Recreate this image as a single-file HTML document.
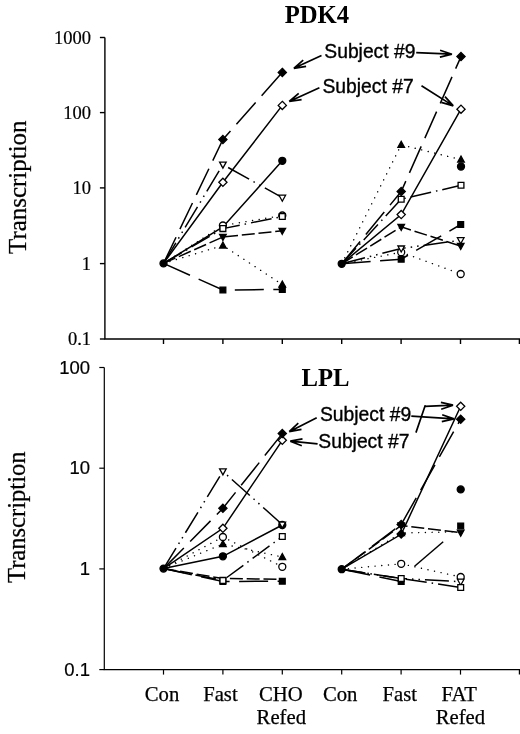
<!DOCTYPE html>
<html><head><meta charset="utf-8"><title>PDK4 / LPL transcription</title>
<style>html,body{margin:0;padding:0;background:#fff}svg{display:block}text{fill:#000}.se{font-family:"Liberation Serif",serif}.sa{font-family:"Liberation Sans",sans-serif}</style></head>
<body>
<svg width="520" height="734" viewBox="0 0 520 734">
<rect width="520" height="734" fill="#fff"/>
<path d="M104.9,37.5 V339.0 H520" fill="none" stroke="#000" stroke-width="1.4"/>
<path d="M99.9,37.5 H104.9" stroke="#000" stroke-width="1.4"/>
<text x="91" y="43.5" text-anchor="end" class="se" font-size="18.5" stroke="#000" stroke-width="0.2">1000</text>
<path d="M99.9,112.6 H104.9" stroke="#000" stroke-width="1.4"/>
<text x="91" y="118.6" text-anchor="end" class="se" font-size="18.5" stroke="#000" stroke-width="0.2">100</text>
<path d="M99.9,187.9 H104.9" stroke="#000" stroke-width="1.4"/>
<text x="91" y="193.9" text-anchor="end" class="se" font-size="18.5" stroke="#000" stroke-width="0.2">10</text>
<path d="M99.9,263.6 H104.9" stroke="#000" stroke-width="1.4"/>
<text x="91" y="269.6" text-anchor="end" class="se" font-size="18.5" stroke="#000" stroke-width="0.2">1</text>
<path d="M99.9,339.0 H104.9" stroke="#000" stroke-width="1.4"/>
<text x="91" y="345.0" text-anchor="end" class="se" font-size="18.5" stroke="#000" stroke-width="0.2">0.1</text>
<path d="M163.5,339.0 v5" stroke="#000" stroke-width="1.4"/>
<path d="M222.9,339.0 v5" stroke="#000" stroke-width="1.4"/>
<path d="M282.3,339.0 v5" stroke="#000" stroke-width="1.4"/>
<path d="M341.7,339.0 v5" stroke="#000" stroke-width="1.4"/>
<path d="M401.1,339.0 v5" stroke="#000" stroke-width="1.4"/>
<path d="M460.5,339.0 v5" stroke="#000" stroke-width="1.4"/>
<path d="M519.4,339.0 v5" stroke="#000" stroke-width="1.4"/>
<path d="M104.3,367.5 V669.6 H520" fill="none" stroke="#000" stroke-width="1.2"/>
<path d="M99.3,367.5 H104.3" stroke="#000" stroke-width="1.2"/>
<text x="90" y="373.7" text-anchor="end" class="sa" font-size="18.5" stroke="#000" stroke-width="0.2">100</text>
<path d="M99.3,468.2 H104.3" stroke="#000" stroke-width="1.2"/>
<text x="90" y="474.4" text-anchor="end" class="sa" font-size="18.5" stroke="#000" stroke-width="0.2">10</text>
<path d="M99.3,568.9 H104.3" stroke="#000" stroke-width="1.2"/>
<text x="90" y="575.1" text-anchor="end" class="sa" font-size="18.5" stroke="#000" stroke-width="0.2">1</text>
<path d="M99.3,669.6 H104.3" stroke="#000" stroke-width="1.2"/>
<text x="90" y="675.8000000000001" text-anchor="end" class="sa" font-size="18.5" stroke="#000" stroke-width="0.2">0.1</text>
<path d="M163.5,669.6 v5" stroke="#000" stroke-width="1.2"/>
<path d="M222.9,669.6 v5" stroke="#000" stroke-width="1.2"/>
<path d="M282.3,669.6 v5" stroke="#000" stroke-width="1.2"/>
<path d="M341.7,669.6 v5" stroke="#000" stroke-width="1.2"/>
<path d="M401.1,669.6 v5" stroke="#000" stroke-width="1.2"/>
<path d="M460.5,669.6 v5" stroke="#000" stroke-width="1.2"/>
<path d="M519.4,669.6 v5" stroke="#000" stroke-width="1.2"/>
<path d="M163.5,263.4 L222.9,245.5 L282.3,284.6" fill="none" stroke="#000" stroke-width="1.4" stroke-dasharray="0.1 6.6" stroke-linecap="round"/>
<path d="M163.5,263.4 L222.9,225.5 L282.3,215.5" fill="none" stroke="#000" stroke-width="1.4" stroke-dasharray="0.1 6.6" stroke-linecap="round"/>
<path d="M163.5,263.4 L222.9,290.0 L282.3,289.4" fill="none" stroke="#000" stroke-width="1.5" stroke-dasharray="29 9.5"/>
<path d="M163.5,263.4 L222.9,237.0 L282.3,230.8" fill="none" stroke="#000" stroke-width="1.5" stroke-dasharray="13 3.8"/>
<path d="M163.5,263.4 L222.9,228.6 L282.3,216.5" fill="none" stroke="#000" stroke-width="1.5" stroke-dasharray="21 5 1.5 5"/>
<path d="M163.5,263.4 L222.9,164.6" fill="none" stroke="#000" stroke-width="1.5" stroke-dasharray="24 5 1.5 5 1.5 5"/>
<path d="M222.9,164.6 L282.3,197.7" fill="none" stroke="#000" stroke-width="1.5" stroke-dasharray="24 5 1.5 5 1.5 5" stroke-dashoffset="-6"/>
<path d="M163.5,263.4 L222.9,227.0 L282.3,160.8" fill="none" stroke="#000" stroke-width="1.5"/>
<path d="M163.5,263.4 L222.9,182.3 L282.3,105.4" fill="none" stroke="#000" stroke-width="1.5"/>
<path d="M163.5,263.4 L222.9,139.5" fill="none" stroke="#000" stroke-width="1.5" stroke-dasharray="29 9"/>
<path d="M222.9,139.5 L282.3,72.4" fill="none" stroke="#000" stroke-width="1.5" stroke-dasharray="29 9" stroke-dashoffset="17.6"/>
<path d="M341.7,263.8 L401.2,144.8 L461.0,159.6" fill="none" stroke="#000" stroke-width="1.4" stroke-dasharray="0.1 6.6" stroke-linecap="round"/>
<path d="M341.7,263.8 L401.2,252.2 L460.7,274.0" fill="none" stroke="#000" stroke-width="1.4" stroke-dasharray="0.1 6.6" stroke-linecap="round"/>
<path d="M341.7,263.8 L401.2,259.2 L460.7,224.5" fill="none" stroke="#000" stroke-width="1.5" stroke-dasharray="29 9.5"/>
<path d="M341.7,263.8 L401.2,226.9 L460.7,246.0" fill="none" stroke="#000" stroke-width="1.5" stroke-dasharray="13 3.8"/>
<path d="M341.7,263.8 L401.2,199.2 L461.0,185.3" fill="none" stroke="#000" stroke-width="1.5" stroke-dasharray="21 5 1.5 5"/>
<path d="M341.7,263.8 L401.2,248.5 L460.7,240.2" fill="none" stroke="#000" stroke-width="1.5" stroke-dasharray="24 5 1.5 5 1.5 5"/>
<path d="M341.7,263.8 L401.2,214.6 L461.0,109.2" fill="none" stroke="#000" stroke-width="1.5"/>
<path d="M341.7,263.8 L401.2,191.5 L461.0,56.6" fill="none" stroke="#000" stroke-width="1.5" stroke-dasharray="29 9"/>
<path d="M163.5,568.6 L222.9,544.0 L282.3,557.0" fill="none" stroke="#000" stroke-width="1.4" stroke-dasharray="0.1 6.6" stroke-linecap="round"/>
<path d="M163.5,568.6 L222.9,537.0 L282.3,566.8" fill="none" stroke="#000" stroke-width="1.4" stroke-dasharray="0.1 6.6" stroke-linecap="round"/>
<path d="M163.5,568.6 L222.9,578.5 L282.3,579.3" fill="none" stroke="#000" stroke-width="1.5" stroke-dasharray="13 3.8"/>
<path d="M163.5,568.6 L222.9,581.5 L282.3,581.2" fill="none" stroke="#000" stroke-width="1.5" stroke-dasharray="29 9.5"/>
<path d="M163.5,568.6 L222.9,580.4 L282.3,536.5" fill="none" stroke="#000" stroke-width="1.5" stroke-dasharray="21 5 1.5 5"/>
<path d="M163.5,568.6 L222.9,556.3 L282.3,525.0" fill="none" stroke="#000" stroke-width="1.5"/>
<path d="M163.5,568.6 L222.9,471.4 L282.3,524.6" fill="none" stroke="#000" stroke-width="1.5" stroke-dasharray="24 5 1.5 5 1.5 5"/>
<path d="M163.5,568.6 L222.9,528.3 L282.3,440.3" fill="none" stroke="#000" stroke-width="1.5"/>
<path d="M163.5,568.6 L222.9,508.3 L282.3,433.6" fill="none" stroke="#000" stroke-width="1.5" stroke-dasharray="29 9"/>
<path d="M341.7,569.2 L401.2,534.3 L460.7,406.3" fill="none" stroke="#000" stroke-width="1.5"/>
<path d="M341.7,569.2 L401.2,533.0 L460.7,531.7" fill="none" stroke="#000" stroke-width="1.4" stroke-dasharray="0.1 6.6" stroke-linecap="round"/>
<path d="M341.7,569.2 L401.2,563.8 L460.7,577.0" fill="none" stroke="#000" stroke-width="1.4" stroke-dasharray="0.1 6.6" stroke-linecap="round"/>
<path d="M341.7,569.2 L401.2,525.5 L460.7,532.7" fill="none" stroke="#000" stroke-width="1.5" stroke-dasharray="13 3.8"/>
<path d="M341.7,569.2 L401.2,581.5" fill="none" stroke="#000" stroke-width="1.5" stroke-dasharray="29 9.5"/>
<path d="M414.6,566.3 L443.2,541.7" stroke="#000" stroke-width="1.5"/>
<path d="M341.7,569.2 L401.2,578.5 L460.7,581.7" fill="none" stroke="#000" stroke-width="1.5" stroke-dasharray="24 5 1.5 5 1.5 5"/>
<path d="M341.7,569.2 L401.2,578.5 L460.7,587.5" fill="none" stroke="#000" stroke-width="1.5" stroke-dasharray="21 5 1.5 5"/>
<path d="M341.7,569.2 L401.2,524.5 L460.7,419.2" fill="none" stroke="#000" stroke-width="1.5" stroke-dasharray="29 9"/>
<path d="M222.9,242.0 L226.2,248.0 L219.6,248.0 Z" fill="#000" stroke="#000" stroke-width="1.3"/>
<path d="M282.3,281.1 L285.6,287.1 L279.0,287.1 Z" fill="#000" stroke="#000" stroke-width="1.3"/>
<circle cx="222.9" cy="225.5" r="3.5" fill="#fff" stroke="#000" stroke-width="1.3"/>
<circle cx="282.3" cy="215.5" r="3.5" fill="#fff" stroke="#000" stroke-width="1.3"/>
<path d="M220.0,287.1 h5.8 v5.8 h-5.8 Z" fill="#000" stroke="#000" stroke-width="1.3"/>
<path d="M279.4,286.5 h5.8 v5.8 h-5.8 Z" fill="#000" stroke="#000" stroke-width="1.3"/>
<path d="M222.9,240.5 L226.2,234.5 L219.6,234.5 Z" fill="#000" stroke="#000" stroke-width="1.3"/>
<path d="M282.3,234.3 L285.6,228.3 L279.0,228.3 Z" fill="#000" stroke="#000" stroke-width="1.3"/>
<path d="M220.0,225.7 h5.8 v5.8 h-5.8 Z" fill="#fff" stroke="#000" stroke-width="1.3"/>
<path d="M279.4,213.6 h5.8 v5.8 h-5.8 Z" fill="#fff" stroke="#000" stroke-width="1.3"/>
<path d="M222.9,168.1 L226.2,162.1 L219.6,162.1 Z" fill="#fff" stroke="#000" stroke-width="1.3"/>
<path d="M282.3,201.2 L285.6,195.2 L279.0,195.2 Z" fill="#fff" stroke="#000" stroke-width="1.3"/>
<circle cx="282.3" cy="160.8" r="3.5" fill="#000" stroke="#000" stroke-width="1.3"/>
<path d="M222.9,178.2 L227.0,182.3 L222.9,186.4 L218.8,182.3 Z" fill="#fff" stroke="#000" stroke-width="1.3"/>
<path d="M282.3,101.3 L286.4,105.4 L282.3,109.5 L278.2,105.4 Z" fill="#fff" stroke="#000" stroke-width="1.3"/>
<path d="M222.9,135.4 L227.0,139.5 L222.9,143.6 L218.8,139.5 Z" fill="#000" stroke="#000" stroke-width="1.3"/>
<path d="M282.3,68.3 L286.4,72.4 L282.3,76.5 L278.2,72.4 Z" fill="#000" stroke="#000" stroke-width="1.3"/>
<path d="M401.2,141.3 L404.5,147.3 L397.9,147.3 Z" fill="#000" stroke="#000" stroke-width="1.3"/>
<path d="M461.0,156.1 L464.3,162.1 L457.7,162.1 Z" fill="#000" stroke="#000" stroke-width="1.3"/>
<circle cx="401.2" cy="252.2" r="3.5" fill="#fff" stroke="#000" stroke-width="1.3"/>
<circle cx="460.7" cy="274.0" r="3.5" fill="#fff" stroke="#000" stroke-width="1.3"/>
<path d="M398.3,256.3 h5.8 v5.8 h-5.8 Z" fill="#000" stroke="#000" stroke-width="1.3"/>
<path d="M457.8,221.6 h5.8 v5.8 h-5.8 Z" fill="#000" stroke="#000" stroke-width="1.3"/>
<path d="M401.2,230.4 L404.5,224.4 L397.9,224.4 Z" fill="#000" stroke="#000" stroke-width="1.3"/>
<path d="M460.7,249.5 L464.0,243.5 L457.4,243.5 Z" fill="#000" stroke="#000" stroke-width="1.3"/>
<path d="M398.3,196.3 h5.8 v5.8 h-5.8 Z" fill="#fff" stroke="#000" stroke-width="1.3"/>
<path d="M458.1,182.4 h5.8 v5.8 h-5.8 Z" fill="#fff" stroke="#000" stroke-width="1.3"/>
<path d="M401.2,252.0 L404.5,246.0 L397.9,246.0 Z" fill="#fff" stroke="#000" stroke-width="1.3"/>
<path d="M460.7,243.7 L464.0,237.7 L457.4,237.7 Z" fill="#fff" stroke="#000" stroke-width="1.3"/>
<circle cx="461.0" cy="166.5" r="3.5" fill="#000" stroke="#000" stroke-width="1.3"/>
<path d="M401.2,210.5 L405.3,214.6 L401.2,218.7 L397.1,214.6 Z" fill="#fff" stroke="#000" stroke-width="1.3"/>
<path d="M461.0,105.1 L465.1,109.2 L461.0,113.3 L456.9,109.2 Z" fill="#fff" stroke="#000" stroke-width="1.3"/>
<path d="M401.2,187.4 L405.3,191.5 L401.2,195.6 L397.1,191.5 Z" fill="#000" stroke="#000" stroke-width="1.3"/>
<path d="M461.0,52.5 L465.1,56.6 L461.0,60.7 L456.9,56.6 Z" fill="#000" stroke="#000" stroke-width="1.3"/>
<circle cx="163.5" cy="263.4" r="3.5" fill="#000" stroke="#000" stroke-width="1.3"/>
<circle cx="341.7" cy="263.8" r="3.5" fill="#000" stroke="#000" stroke-width="1.3"/>
<path d="M222.9,540.5 L226.2,546.5 L219.6,546.5 Z" fill="#000" stroke="#000" stroke-width="1.3"/>
<path d="M282.3,553.5 L285.6,559.5 L279.0,559.5 Z" fill="#000" stroke="#000" stroke-width="1.3"/>
<circle cx="222.9" cy="537.0" r="3.5" fill="#fff" stroke="#000" stroke-width="1.3"/>
<circle cx="282.3" cy="566.8" r="3.5" fill="#fff" stroke="#000" stroke-width="1.3"/>
<path d="M220.0,578.6 h5.8 v5.8 h-5.8 Z" fill="#000" stroke="#000" stroke-width="1.3"/>
<path d="M279.4,578.3 h5.8 v5.8 h-5.8 Z" fill="#000" stroke="#000" stroke-width="1.3"/>
<path d="M220.0,577.5 h5.8 v5.8 h-5.8 Z" fill="#fff" stroke="#000" stroke-width="1.3"/>
<path d="M279.4,533.6 h5.8 v5.8 h-5.8 Z" fill="#fff" stroke="#000" stroke-width="1.3"/>
<circle cx="222.9" cy="556.3" r="3.5" fill="#000" stroke="#000" stroke-width="1.3"/>
<circle cx="282.3" cy="525.0" r="3.5" fill="#000" stroke="#000" stroke-width="1.3"/>
<path d="M222.9,474.9 L226.2,468.9 L219.6,468.9 Z" fill="#fff" stroke="#000" stroke-width="1.3"/>
<path d="M282.3,528.1 L285.6,522.1 L279.0,522.1 Z" fill="#fff" stroke="#000" stroke-width="1.3"/>
<path d="M222.9,524.2 L227.0,528.3 L222.9,532.4 L218.8,528.3 Z" fill="#fff" stroke="#000" stroke-width="1.3"/>
<path d="M282.3,436.2 L286.4,440.3 L282.3,444.4 L278.2,440.3 Z" fill="#fff" stroke="#000" stroke-width="1.3"/>
<path d="M222.9,504.2 L227.0,508.3 L222.9,512.4 L218.8,508.3 Z" fill="#000" stroke="#000" stroke-width="1.3"/>
<path d="M282.3,429.5 L286.4,433.6 L282.3,437.7 L278.2,433.6 Z" fill="#000" stroke="#000" stroke-width="1.3"/>
<path d="M460.7,402.2 L464.8,406.3 L460.7,410.4 L456.6,406.3 Z" fill="#fff" stroke="#000" stroke-width="1.3"/>
<path d="M401.2,529.5 L404.5,535.5 L397.9,535.5 Z" fill="#000" stroke="#000" stroke-width="1.3"/>
<path d="M401.2,529.9 L405.3,534.0 L401.2,538.1 L397.1,534.0 Z" fill="#000" stroke="#000" stroke-width="1.3"/>
<circle cx="401.2" cy="563.8" r="3.5" fill="#fff" stroke="#000" stroke-width="1.3"/>
<circle cx="460.7" cy="577.0" r="3.5" fill="#fff" stroke="#000" stroke-width="1.3"/>
<path d="M401.2,529.0 L404.5,523.0 L397.9,523.0 Z" fill="#000" stroke="#000" stroke-width="1.3"/>
<path d="M460.7,536.2 L464.0,530.2 L457.4,530.2 Z" fill="#000" stroke="#000" stroke-width="1.3"/>
<path d="M398.3,578.6 h5.8 v5.8 h-5.8 Z" fill="#000" stroke="#000" stroke-width="1.3"/>
<path d="M457.8,523.1 h5.8 v5.8 h-5.8 Z" fill="#000" stroke="#000" stroke-width="1.3"/>
<path d="M460.7,585.2 L464.0,579.2 L457.4,579.2 Z" fill="#fff" stroke="#000" stroke-width="1.3"/>
<path d="M398.3,575.6 h5.8 v5.8 h-5.8 Z" fill="#fff" stroke="#000" stroke-width="1.3"/>
<path d="M457.8,584.6 h5.8 v5.8 h-5.8 Z" fill="#fff" stroke="#000" stroke-width="1.3"/>
<circle cx="460.7" cy="489.4" r="3.5" fill="#000" stroke="#000" stroke-width="1.3"/>
<path d="M401.2,520.4 L405.3,524.5 L401.2,528.6 L397.1,524.5 Z" fill="#000" stroke="#000" stroke-width="1.3"/>
<path d="M460.7,415.1 L464.8,419.2 L460.7,423.3 L456.6,419.2 Z" fill="#000" stroke="#000" stroke-width="1.3"/>
<circle cx="163.5" cy="568.6" r="3.5" fill="#000" stroke="#000" stroke-width="1.3"/>
<circle cx="341.7" cy="569.2" r="3.5" fill="#000" stroke="#000" stroke-width="1.3"/>
<path d="M321.5,55.4 L293.8,68.3 M293.8,68.3 L306.1,66.4 M293.8,68.3 L303.2,60.1" fill="none" stroke="#000" stroke-width="1.7" stroke-linejoin="miter"/>
<path d="M319.4,87.7 L289.2,101.5 M289.2,101.5 L301.6,99.6 M289.2,101.5 L298.7,93.4" fill="none" stroke="#000" stroke-width="1.7" stroke-linejoin="miter"/>
<path d="M416.2,52.7 L452.0,54.2 M452.0,54.2 L440.1,50.3 M452.0,54.2 L439.9,57.1" fill="none" stroke="#000" stroke-width="1.7" stroke-linejoin="miter"/>
<path d="M421.5,85.8 L453.3,105.9 M453.3,105.9 L445.0,96.6 M453.3,105.9 L441.3,102.4" fill="none" stroke="#000" stroke-width="1.7" stroke-linejoin="miter"/>
<path d="M316.7,417.7 L289.2,431.7 M289.2,431.7 L301.5,429.3 M289.2,431.7 L298.3,423.2" fill="none" stroke="#000" stroke-width="1.7" stroke-linejoin="miter"/>
<path d="M317.6,443.8 L290.2,441.2 M290.2,441.2 L301.8,445.8 M290.2,441.2 L302.5,438.9" fill="none" stroke="#000" stroke-width="1.7" stroke-linejoin="miter"/>
<path d="M411.3,416.2 L454.0,418.9 M454.0,418.9 L442.2,414.7 M454.0,418.9 L441.8,421.6" fill="none" stroke="#000" stroke-width="1.7" stroke-linejoin="miter"/>
<path d="M416.2,431.8 L425,406.0" fill="none" stroke="#000" stroke-width="1.7" stroke-linecap="square"/>
<path d="M425.0,406.4 L453.1,405.2 M453.1,405.2 L440.9,402.3 M453.1,405.2 L441.2,409.2" fill="none" stroke="#000" stroke-width="1.7" stroke-linejoin="miter"/>
<text x="324.3" y="57.5" class="sa" font-size="19.3" text-anchor="start" stroke="#000" stroke-width="0.35">Subject #9</text>
<text x="322.5" y="93.3" class="sa" font-size="19.3" text-anchor="start" stroke="#000" stroke-width="0.35">Subject #7</text>
<text x="320" y="420.5" class="sa" font-size="19.3" text-anchor="start" stroke="#000" stroke-width="0.35">Subject #9</text>
<text x="318.3" y="448.0" class="sa" font-size="19.3" text-anchor="start" stroke="#000" stroke-width="0.35">Subject #7</text>
<text x="316.9" y="23" class="se" font-size="24.7" text-anchor="middle" font-weight="bold">PDK4</text>
<text x="325.6" y="386.2" class="se" font-size="24.7" text-anchor="middle" font-weight="bold">LPL</text>
<text x="162.0" y="701.2" class="se" font-size="20.7" text-anchor="middle" stroke="#000" stroke-width="0.25">Con</text>
<text x="220.4" y="701.2" class="se" font-size="20.7" text-anchor="middle" stroke="#000" stroke-width="0.25">Fast</text>
<text x="280.8" y="701.2" class="se" font-size="20.7" text-anchor="middle" stroke="#000" stroke-width="0.25">CHO</text>
<text x="281.3" y="724.3" class="se" font-size="20.7" text-anchor="middle" stroke="#000" stroke-width="0.25">Refed</text>
<text x="340.2" y="701.2" class="se" font-size="20.7" text-anchor="middle" stroke="#000" stroke-width="0.25">Con</text>
<text x="399.7" y="701.2" class="se" font-size="20.7" text-anchor="middle" stroke="#000" stroke-width="0.25">Fast</text>
<text x="459.2" y="701.2" class="se" font-size="20.7" text-anchor="middle" stroke="#000" stroke-width="0.25">FAT</text>
<text x="460.4" y="724.3" class="se" font-size="20.7" text-anchor="middle" stroke="#000" stroke-width="0.25">Refed</text>
<text transform="translate(26,187.2) rotate(-90)" text-anchor="middle" class="se" font-size="25" textLength="133.5" lengthAdjust="spacingAndGlyphs" stroke="#000" stroke-width="0.25">Transcription</text>
<text transform="translate(25.4,517.2) rotate(-90)" text-anchor="middle" class="se" font-size="25" textLength="131.5" lengthAdjust="spacingAndGlyphs" stroke="#000" stroke-width="0.25">Transcription</text>
</svg>
</body></html>
